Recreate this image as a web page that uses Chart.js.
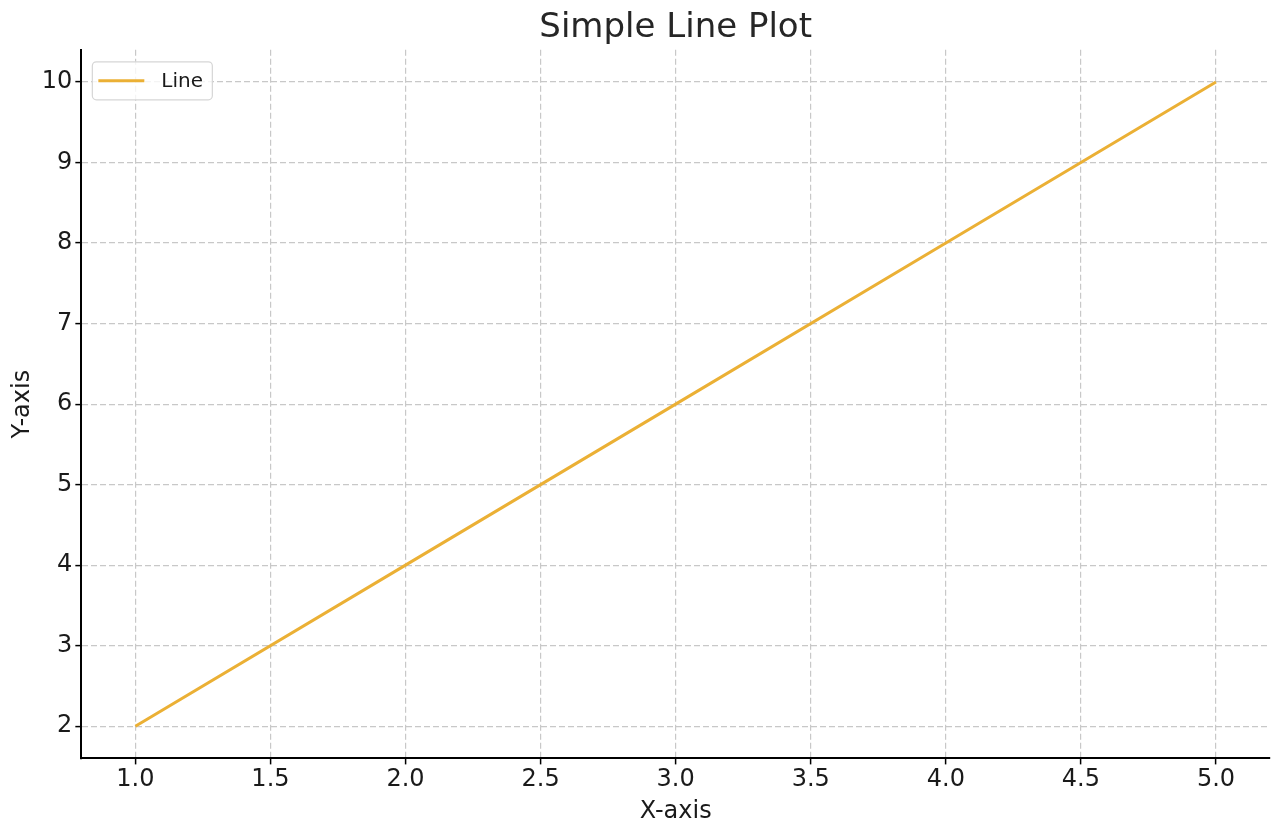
<!DOCTYPE html>
<html>
<head>
<meta charset="utf-8">
<script src="https://cdn.jsdelivr.net/npm/chart.js@4.4.1/dist/chart.umd.min.js"></script>
<style>
  html, body { margin: 0; padding: 0; background: #fff; }
  #wrap { width: 1280px; height: 838px; position: relative; }
</style>
</head>
<body>
<div id="wrap"><canvas id="grafica"></canvas></div>
<script>
// datos de la linea
const xValues = [1, 2, 3, 4, 5];
const yValues = [2, 4, 6, 8, 10];
const xTicks = [1.0, 1.5, 2.0, 2.5, 3.0, 3.5, 4.0, 4.5, 5.0];
const yTicks = [2, 3, 4, 5, 6, 7, 8, 9, 10];
const serieLabel = "Line";

const fuente = "'DejaVu Sans', sans-serif";
Chart.defaults.font.family = fuente;
Chart.defaults.color = "#1a1a1a";

// leyenda dentro del area del grafico, arriba a la izquierda
const leyendaDentro = {
  id: "leyendaDentro",
  afterDraw(chart) {
    const ctx = chart.ctx;
    const area = chart.chartArea;
    const ds = chart.data.datasets[0];
    const x = area.left + 11, y = area.top + 12, w = 120, h = 38, r = 4;
    ctx.save();
    ctx.beginPath();
    ctx.roundRect(x, y, w, h, r);
    ctx.fillStyle = "rgba(255,255,255,0.8)";
    ctx.fill();
    ctx.lineWidth = 1.2;
    ctx.strokeStyle = "#d6d6d6";
    ctx.stroke();
    ctx.beginPath();
    ctx.moveTo(x + 6, y + h / 2);
    ctx.lineTo(x + 52, y + h / 2);
    ctx.lineWidth = ds.borderWidth;
    ctx.strokeStyle = ds.borderColor;
    ctx.stroke();
    ctx.fillStyle = "#1a1a1a";
    ctx.font = "20px " + fuente;
    ctx.textBaseline = "middle";
    ctx.fillText(ds.label, x + 69, y + h / 2 + 1);
    ctx.restore();
  }
};

new Chart(document.querySelector("#grafica"), {
  type: "line",
  data: {
    datasets: [{
      label: serieLabel,
      data: xValues.map((v, i) => ({ x: v, y: yValues[i] })),
      borderColor: "#ebb035",
      borderWidth: 3,
      pointRadius: 0,
      tension: 0,
      fill: false
    }]
  },
  options: {
    responsive: true,
    maintainAspectRatio: false,
    animation: false,
    layout: { padding: { left: 8, right: 10, bottom: 12, top: 8 } },
    plugins: {
      legend: { display: false },
      tooltip: { enabled: false },
      title: {
        display: true,
        text: "Simple Line Plot",
        fullSize: false,
        color: "#262626",
        font: { size: 34, weight: "normal" },
        padding: { top: 0, bottom: 1 }
      }
    },
    scales: {
      x: {
        type: "linear",
        min: 0.8,
        max: 5.2,
        afterBuildTicks: s => { s.ticks = xTicks.map(v => ({ value: v })); },
        ticks: {
          font: { size: 24 },
          color: "#1a1a1a",
          padding: 1,
          maxRotation: 0,
          callback: v => v.toFixed(1)
        },
        grid: { color: "#c8c8c8", lineWidth: 1.2, tickColor: "#000", tickLength: 6, tickWidth: 1.5 },
        border: { color: "#000", width: 2, dash: [6, 3] },
        title: { display: true, text: "X-axis", font: { size: 24 }, color: "#1a1a1a", padding: { top: 2, bottom: 0 } }
      },
      y: {
        type: "linear",
        min: 1.6,
        max: 10.4,
        afterBuildTicks: s => { s.ticks = yTicks.map(v => ({ value: v })); },
        ticks: {
          font: { size: 24 },
          color: "#1a1a1a",
          padding: 3,
          callback: v => String(v)
        },
        grid: { color: "#c8c8c8", lineWidth: 1.2, tickColor: "#000", tickLength: 6, tickWidth: 1.5 },
        border: { color: "#000", width: 2, dash: [6, 3] },
        title: { display: true, text: "Y-axis", font: { size: 24 }, color: "#1a1a1a", padding: { top: 0, bottom: 2 } }
      }
    }
  },
  plugins: [leyendaDentro]
});
</script>
</body>
</html>
